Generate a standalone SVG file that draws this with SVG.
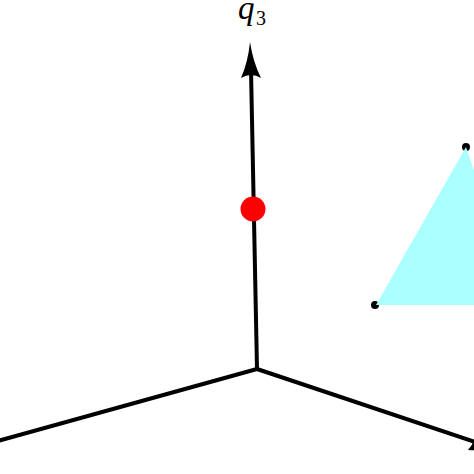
<svg xmlns="http://www.w3.org/2000/svg" width="474" height="474" viewBox="0 0 474 474">
<style>
.axis{stroke:#000;stroke-width:4;fill:none;stroke-linecap:butt}
.head{fill:#000;stroke:none}
.vtx{fill:#000}
.lbl{font-family:"Liberation Serif","DejaVu Serif",serif;fill:#000}
</style>
<rect width="474" height="474" fill="#fff"/>
<g id="vertices">
<circle class="vtx" cx="466" cy="147" r="4"/>
<circle class="vtx" cx="375" cy="305" r="4"/>
</g>
<g id="triangle">
<polygon points="466,147 376,305 520,305" fill="#aaffff" stroke="none"/>
</g>
<g id="connectors">
<line class="axis" x1="257" y1="369" x2="251" y2="70"/>
<path class="head" d="M250,42 Q253,62 261,78 Q251,72 241,78 Q248,62 250,42 Z"/>
<line class="axis" x1="257" y1="369" x2="-20" y2="446"/>
<line class="axis" x1="257" y1="369" x2="490" y2="447"/>
<path class="head" d="M507,453 Q486,451 468,450 Q475,443 475,432 Q490,445 507,453 Z"/>
</g>
<g id="point">
<circle cx="253" cy="209" r="12.5" fill="#ff0000"/>
</g>
<g id="label-q3">
<text class="lbl" x="238" y="19" font-size="33" font-style="italic">q</text>
<text class="lbl" x="256" y="25" font-size="20">3</text>
</g>
</svg>
